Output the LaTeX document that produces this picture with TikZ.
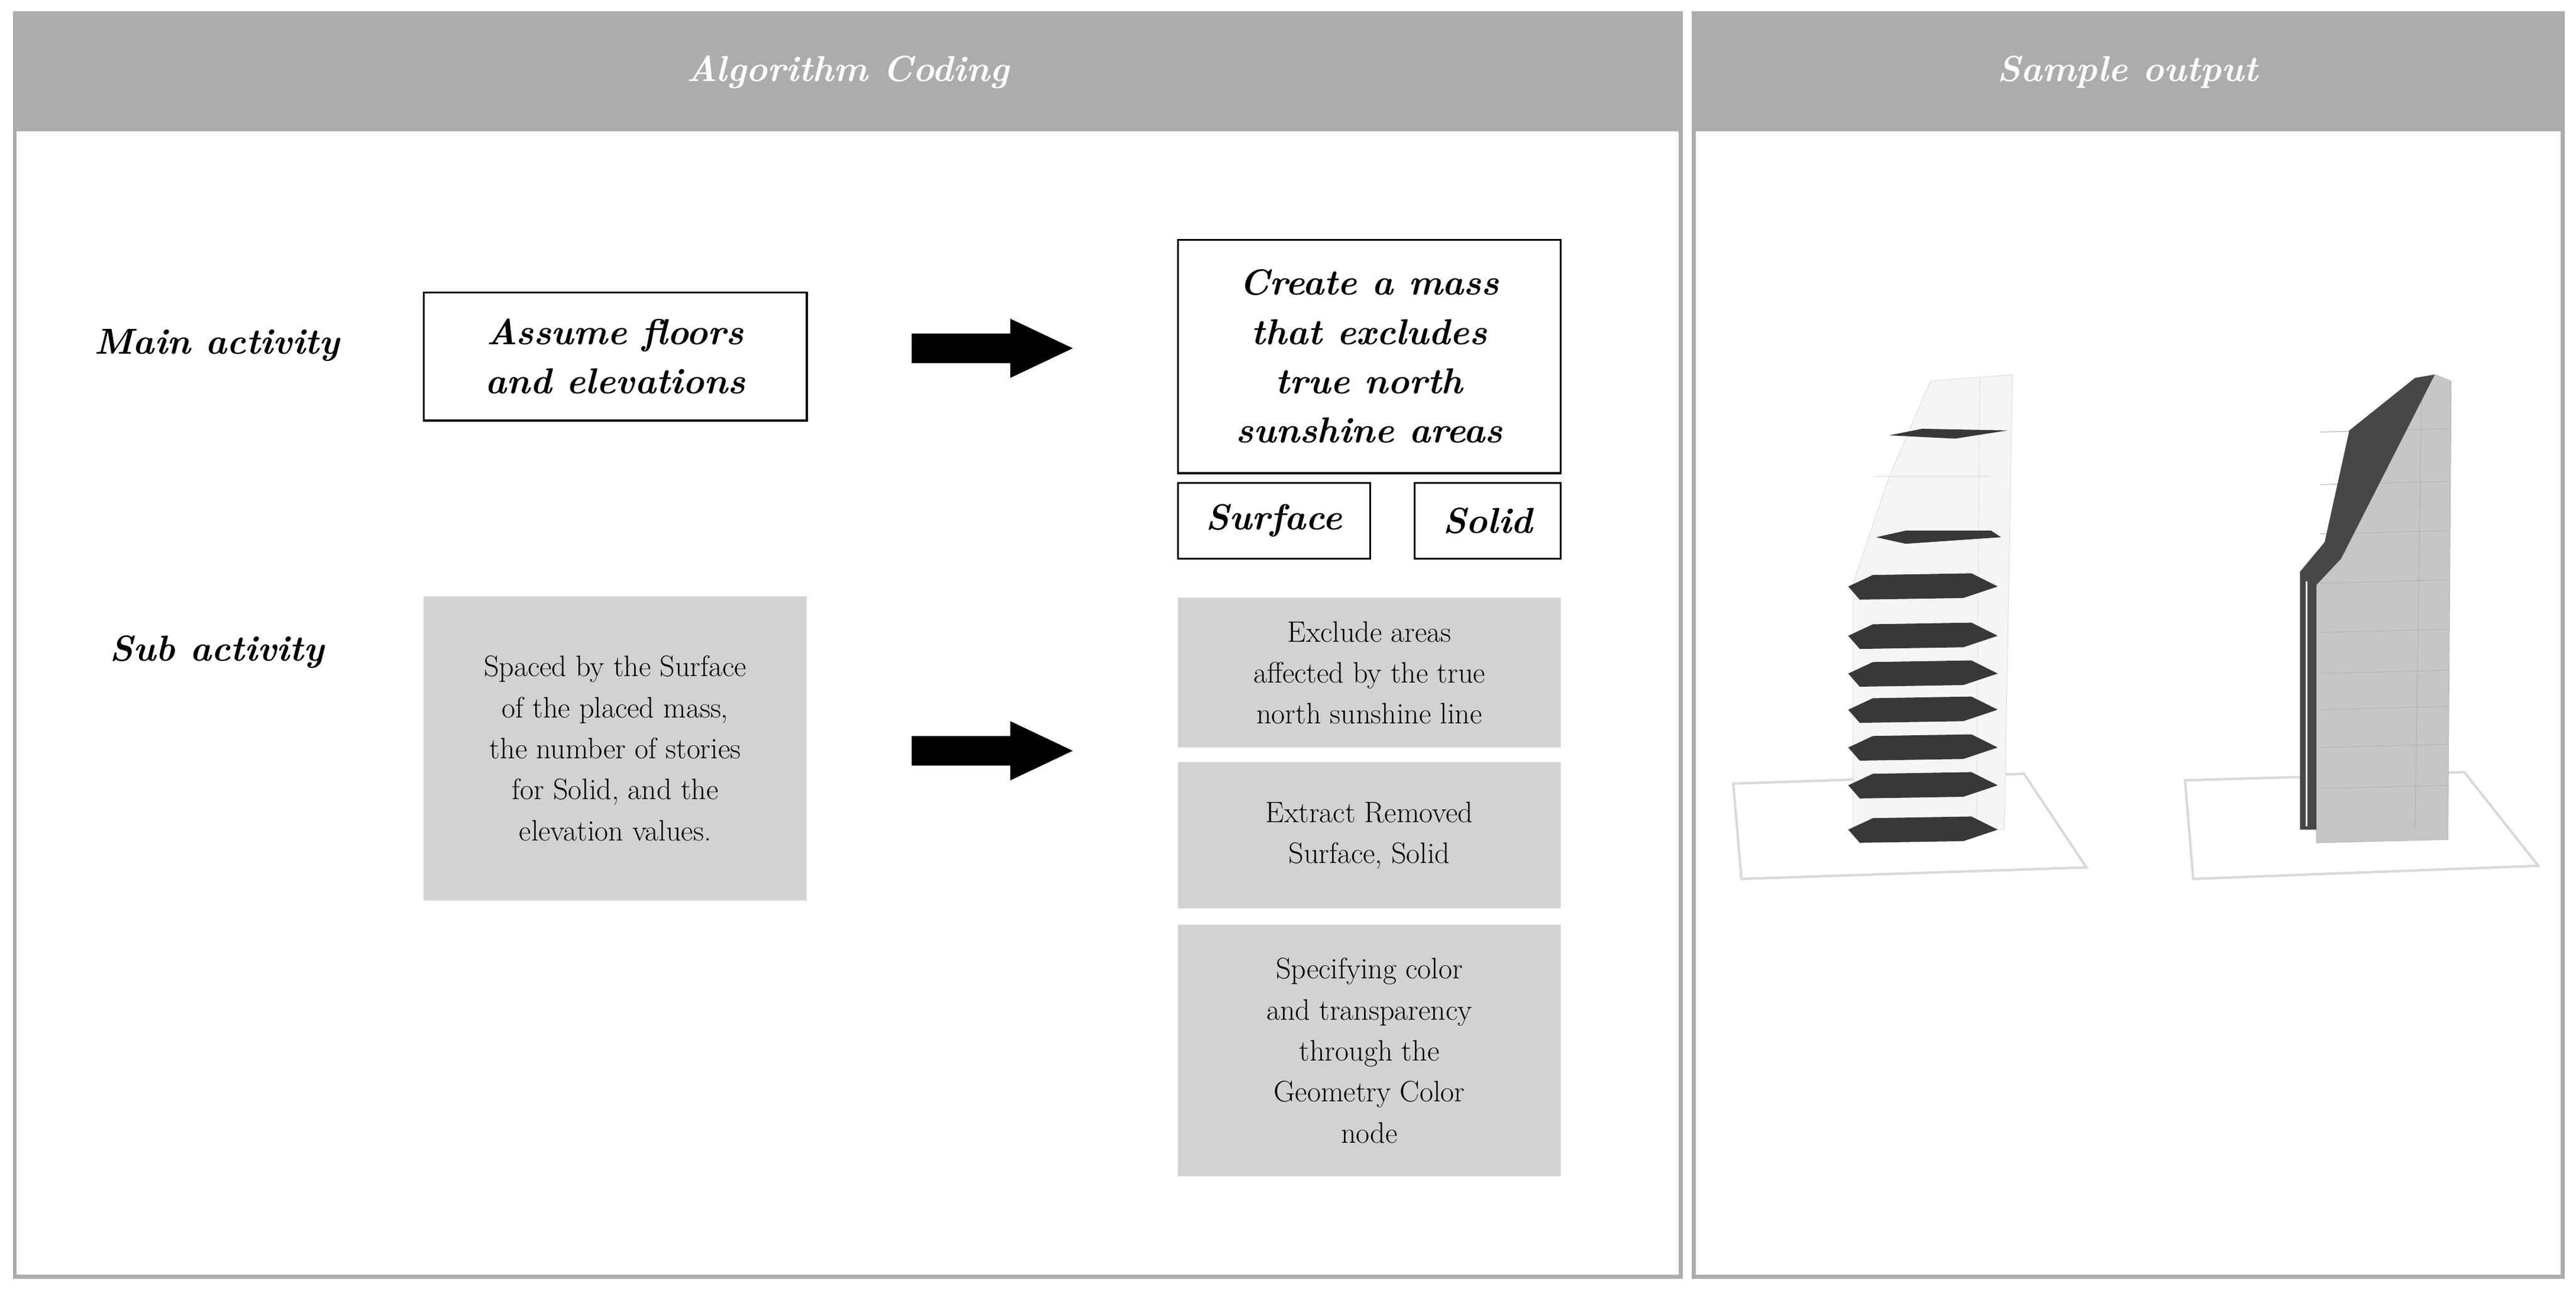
\documentclass[tikz,border=0pt]{standalone}
\begin{document}
\begin{tikzpicture}[x=1pt,y=-1pt,
 hdr/.style={font=\fontsize{22}{26}\selectfont\bfseries\itshape,text=white},
 lab/.style={font=\fontsize{22}{26}\selectfont\bfseries\itshape},
 mbox/.style={draw=black,line width=1.3pt,fill=white,align=center,font=\fontsize{22}{30}\selectfont\bfseries\itshape,inner sep=0},
 gbox/.style={fill=gray!35,draw=gray!25,align=center,font=\fontsize{18}{25}\selectfont,inner sep=0},
 panel/.style={draw=gray!65,line width=2.5pt},
 slab/.style={fill=black!78,draw=none},
 arr/.style={fill=black}]
\useasboundingbox (0,0) rectangle (1568,787);
% panels
\fill[gray!65] (9,8) rectangle (1023,80);
\fill[gray!65] (1031,8) rectangle (1560,80);
\draw[panel] (9,8) rectangle (1023,777);
\draw[panel] (1031,8) rectangle (1560,777);
\node[hdr] (h1) at (516,44) {Algorithm Coding};
\node[hdr] (h2) at (1295,44) {Sample output};
\node[lab] (main) at (132,210) {Main activity};
\node[lab] (sub) at (132,397) {Sub activity};
% main boxes
\node[mbox,minimum width=233pt,minimum height=78pt] (b1) at (374.5,217) {Assume floors\\and elevations};
\node[mbox,minimum width=233pt,minimum height=142pt] (b2) at (833.5,217) {Create a mass\\that excludes\\true north\\sunshine areas};
\node[mbox,minimum width=117pt,minimum height=46pt] (sf) at (775.5,317) {Surface};
\node[mbox,minimum width=89pt,minimum height=46pt] (so) at (905.5,317) {Solid};
% grey boxes
\node[gbox,minimum width=233pt,minimum height=185pt] (g1) at (374.5,455.5) {Spaced by the Surface\\of the placed mass,\\the number of stories\\for Solid, and the\\elevation values.};
\node[gbox,minimum width=233pt,minimum height=91pt] (g2) at (833.5,409.5) {Exclude areas\\affected by the true\\north sunshine line};
\node[gbox,minimum width=233pt,minimum height=89pt] (g3) at (833.5,508.5) {Extract Removed\\Surface, Solid};
\node[gbox,minimum width=233pt,minimum height=153pt] (g4) at (833.5,639.5) {Specifying color\\and transparency\\through the\\Geometry Color\\node};
% arrows
\foreach \y in {212,457}{
 \fill[arr] (555,\y-9) -- (615,\y-9) -- (615,\y-18) -- (653,\y) -- (615,\y+18) -- (615,\y+9) -- (555,\y+9) -- cycle;}
% left building
\draw[gray!30,line width=1.5pt] (1055,477) -- (1232,471) -- (1270,528) -- (1060,535) -- cycle;
\fill[gray!8,draw=gray!25] (1128,505) -- (1128,355) -- (1150,290) -- (1175,232) -- (1225,228) -- (1220,505) -- cycle;
\draw[gray!25] (1140,290) -- (1212,290) (1130,355) -- (1215,355) (1205,230) -- (1203,505);
\foreach \y in {505,478,455,432,410,387,357}{
 \fill[slab] (1125,\y) -- (1140,\y-7) -- (1200,\y-8) -- (1216,\y) -- (1195,\y+7) -- (1132,\y+8) -- cycle;}
\fill[slab] (1142,327) -- (1160,323) -- (1212,323) -- (1218,327) -- (1160,331) -- cycle;
\fill[slab] (1150,265) -- (1170,261) -- (1222,262) -- (1190,267) -- cycle;
% right building
\draw[gray!30,line width=1.5pt] (1330,475) -- (1500,470) -- (1545,527) -- (1335,535) -- cycle;
\fill[gray!45,draw=gray!55] (1410,513) -- (1490,511) -- (1492,232) -- (1482,228) -- (1425,340) -- (1410,356) -- cycle;
\foreach \y in {263,295,325,355,385,410,432,455,480}{\draw[gray!60] (1412,\y) -- (1490,\y-2);}
\draw[gray!60] (1474,240) -- (1470,505);
\fill[black!72] (1400,505) -- (1410,505) -- (1410,356) -- (1425,340) -- (1482,228) -- (1470,230) -- (1430,262) -- (1415,330) -- (1400,348) -- cycle;
\draw[white!80!gray,line width=1pt] (1404,503) -- (1404,354);
\end{tikzpicture}
\end{document}
